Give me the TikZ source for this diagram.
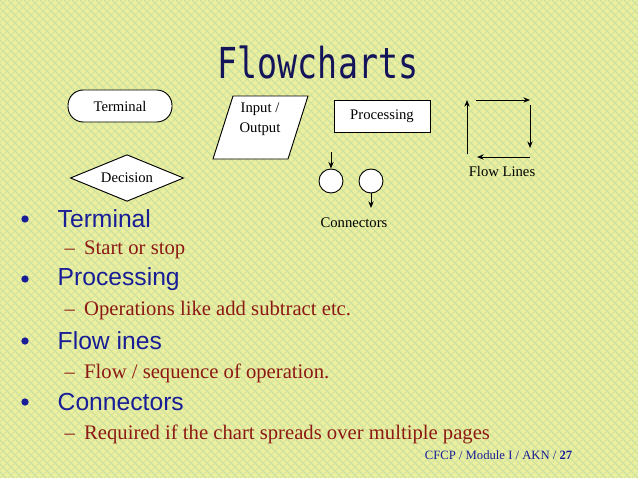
\documentclass[tikz,border=0pt]{standalone}
\usepackage{fontspec}
\setmainfont{Liberation Serif}
\setsansfont{Liberation Sans}
\newfontfamily\titlefont[FakeStretch=0.78]{DejaVu Sans Mono}
\usetikzlibrary{shapes.geometric,arrows.meta}
\definecolor{bg}{RGB}{236,240,158}
\definecolor{pat}{RGB}{205,225,160}
\definecolor{tblue}{RGB}{25,30,150}
\definecolor{ttitle}{RGB}{20,20,90}
\definecolor{tred}{RGB}{140,25,20}
\begin{document}
\begin{tikzpicture}[x=0.75pt,y=-0.75pt,
  shp/.style={draw=black,fill=white,line width=0.7pt,font=\fontsize{11}{13}\selectfont},
  fl/.style={-{Stealth[length=5pt,width=4pt]},line width=0.7pt},
  bul/.style={anchor=west,text=tblue,font=\sffamily\fontsize{18.5}{20}\selectfont},
  dot/.style={circle,fill=tblue,minimum size=5.5pt,inner sep=0pt},
  sub/.style={anchor=west,text=tred,font=\fontsize{15.5}{17}\selectfont}]
\fill[bg] (0,0) rectangle (638,478);
\begin{scope}
\clip (0,0) rectangle (638,478);
\foreach \i in {-480,-472,...,640} {\draw[pat,line width=1pt] (\i,0) -- ++(478,478); \draw[pat!70!bg,line width=0.8pt] (\i+478,0) -- ++(-478,478);}
\end{scope}
\useasboundingbox (0,0) rectangle (638,478);
\node[text=ttitle,font=\titlefont\fontsize{32}{36}\selectfont] (title) at (318,62) {Flowcharts};
\node[shp,rounded corners=11.5pt,minimum width=78pt,minimum height=24pt] (term) at (120,106) {Terminal};
\fill[white] (233,96) -- (308,96) -- (288,159) -- (213,159) -- cycle;
\draw[line width=0.7pt] (233,96) -- (308,96) -- (288,159) -- (213,159) -- cycle;
\node[align=center,inner sep=1pt,font=\fontsize{11}{15}\selectfont] (io) at (260,119) {Input /\\Output};
\node[shp,minimum width=72pt,minimum height=24pt] (proc) at (382,116) {Processing};
\node[shp,diamond,aspect=2.4,minimum width=85pt,minimum height=35pt,inner sep=0pt] (dec) at (127,178) {Decision};
\node[shp,circle,minimum size=18pt,inner sep=0pt] (c1) at (331,181) {};
\node[shp,circle,minimum size=18pt,inner sep=0pt] (c2) at (371,181) {};
\coordinate (c1in) at (331,152);
\coordinate (c2out) at (371,208);
\draw[fl] (c1in) -- (c1);
\draw[fl] (c2) -- (c2out);
\node[font=\fontsize{11}{13}\selectfont] (conn) at (354,223) {Connectors};
\coordinate (f1) at (467,154); \coordinate (f2) at (467,100);
\coordinate (f3) at (476,100); \coordinate (f4) at (530,100);
\coordinate (f5) at (530,105); \coordinate (f6) at (530,148);
\coordinate (f7) at (530,157); \coordinate (f8) at (477,157);
\draw[fl] (f1) -- (f2); \draw[fl] (f3) -- (f4); \draw[fl] (f5) -- (f6); \draw[fl] (f7) -- (f8);
\node[font=\fontsize{11}{13}\selectfont] (fll) at (502,171) {Flow Lines};
\foreach \y/\t/\n in {219/Terminal/1,279/Processing/2,341/Flow ines/3,402/Connectors/4}{
  \node[dot] (d\n) at (25,\y) {};
  \node[bul] (b\n) at (53,\y) {\t};
}
\node[sub] (s1) at (60,250) {–\hspace{3pt} Start or stop};
\node[sub] (s2) at (60,311) {–\hspace{3pt} Operations like add subtract etc.};
\node[sub] (s3) at (60,373) {–\hspace{3pt} Flow / sequence of operation.};
\node[sub] (s4) at (60,434) {–\hspace{3pt} Required if the chart spreads over multiple pages};
\node[anchor=east,text=tblue,font=\fontsize{9.5}{11}\selectfont] (foot) at (577,455) {CFCP / Module I / AKN / \textbf{27}};
\end{tikzpicture}
\end{document}
